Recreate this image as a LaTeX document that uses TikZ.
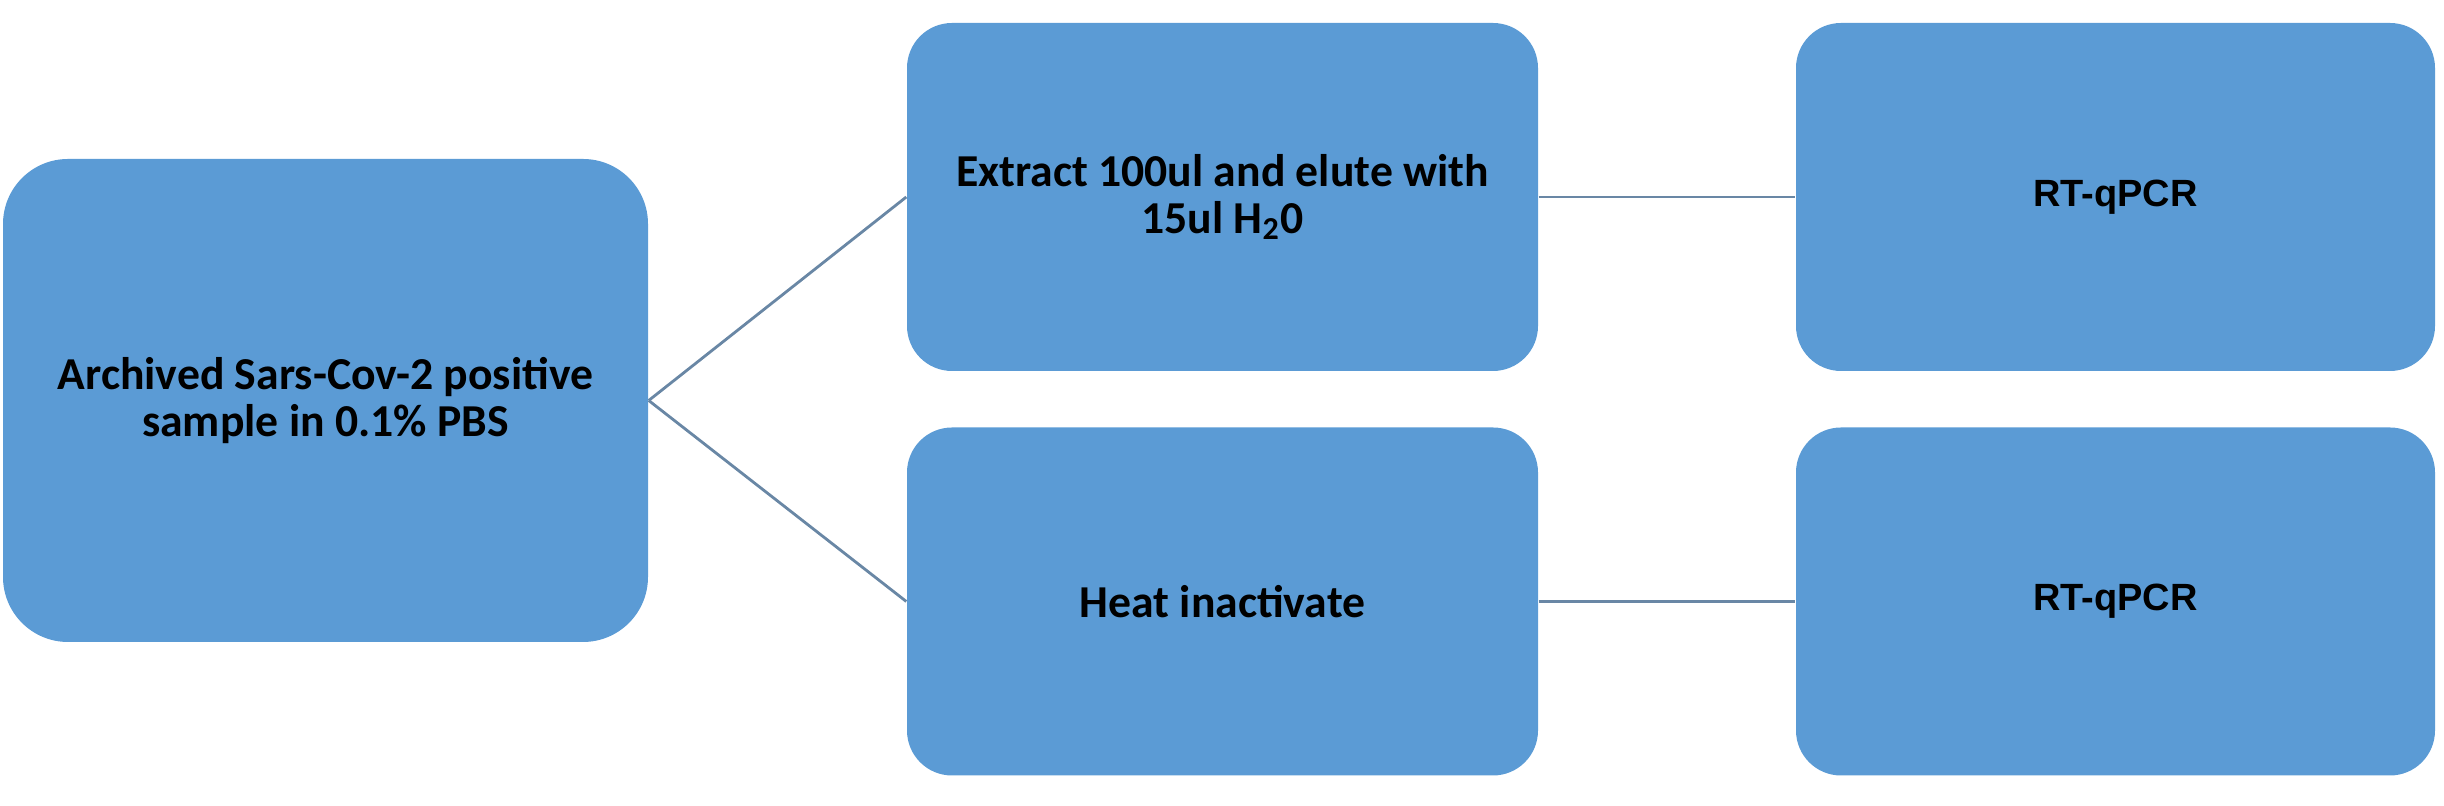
\documentclass[tikz,border=0pt]{standalone}
\usepackage{fontspec}
\setmainfont{Carlito}
\newfontfamily\arialfont{Liberation Sans}
\definecolor{boxblue}{RGB}{91,155,213}
\definecolor{linkgray}{RGB}{105,135,165}
\tikzset{stepbox/.style={shape=rectangle, fill=boxblue, draw=none, align=center, font=\bfseries\fontsize{13}{13.5}\selectfont}}

\begin{document}
\begin{tikzpicture}
\useasboundingbox (0,0) rectangle (24.44,8.06);
\node[stepbox, minimum width=6.45cm, minimum height=4.83cm, rounded corners=0.65cm] (A) at (3.255, 4.055) {Archived Sars-Cov-2 positive\\sample in 0.1\% PBS};
\node[stepbox, minimum width=6.31cm, minimum height=3.48cm, rounded corners=0.45cm] (E) at (12.225, 6.09) {Extract 100ul and elute with\\15ul H\textsubscript{2}0};
\node[stepbox, minimum width=6.31cm, minimum height=3.48cm, rounded corners=0.45cm] (H) at (12.225, 2.045) {Heat inactivate};
\node[stepbox, minimum width=6.39cm, minimum height=3.48cm, rounded corners=0.45cm, font=\arialfont\bfseries\fontsize{10.8}{12.5}\selectfont] (Q1) at (21.155, 6.09) {RT-qPCR};
\node[stepbox, minimum width=6.39cm, minimum height=3.48cm, rounded corners=0.45cm, font=\arialfont\bfseries\fontsize{10.8}{12.5}\selectfont] (Q2) at (21.155, 2.045) {RT-qPCR};
\path [-, thick, draw=linkgray] (A.east) edge (E.west);
\path [-, thick, draw=linkgray] (A.east) edge (H.west);
\path [-, thick, draw=linkgray] (E) edge (Q1);
\path [-, thick, draw=linkgray] (H) edge (Q2);
\end{tikzpicture}
\end{document}
